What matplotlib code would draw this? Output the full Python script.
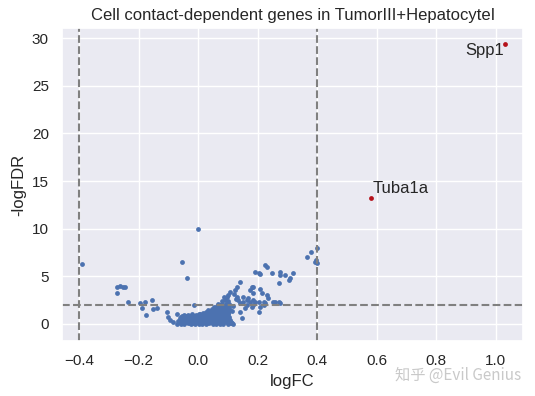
import matplotlib
matplotlib.use("Agg")
import matplotlib.pyplot as plt
import seaborn as sns

# gene-level results: log fold change and -log10(FDR)
# dense bulk of non-significant genes near zero
bulk_fc = [
    -0.070, -0.057, -0.047, -0.033, -0.023, -0.011, 0.003, 0.013, 0.027, 0.037, 0.051, 0.061, 0.075, 0.085, 0.099, 0.111, 0.118,
    -0.064, -0.052, -0.040, -0.028, -0.017, -0.005, 0.008, 0.019, 0.031, 0.043, 0.055, 0.068, 0.079, 0.092, 0.104, 0.114,
    -0.066, -0.053, -0.042, -0.028, -0.018, -0.004, 0.008, 0.018, 0.032, 0.042, 0.056, 0.066, 0.080, 0.090, 0.104, 0.112,
    -0.060, -0.047, -0.035, -0.022, -0.010, 0.004, 0.016, 0.030, 0.041, 0.054, 0.065, 0.077, 0.089, 0.101, 0.108,
    -0.062, -0.048, -0.038, -0.023, -0.013, 0.002, 0.012, 0.026, 0.036, 0.050, 0.060, 0.074, 0.084, 0.098,
    -0.058, -0.044, -0.031, -0.019, -0.006, 0.007, 0.020, 0.033, 0.045, 0.057, 0.069, 0.081, 0.093, 0.103,
    -0.055, -0.041, -0.026, -0.015, -0.001, 0.010, 0.024, 0.034, 0.048, 0.058, 0.072, 0.082, 0.096,
    -0.048, -0.034, -0.020, -0.008, 0.006, 0.020, 0.031, 0.044, 0.055, 0.066, 0.078, 0.090, 0.102,
    0.004, 0.017, 0.027, 0.041, 0.051, 0.065, 0.075, 0.089, 0.101,
    0.026, 0.038, 0.050, 0.062, 0.074, 0.086, 0.098,
    0.033, 0.046, 0.056, 0.070, 0.080, 0.094, 0.106,
    0.048, 0.060, 0.072, 0.084, 0.097,
    0.054, 0.067, 0.077, 0.091, 0.103,
    0.063, 0.075, 0.087, 0.099,
    0.068, 0.081, 0.092, 0.105,
    0.079, 0.090, 0.100,
    0.088, 0.097,
]
bulk_fdr = [
    0.02, 0.05, 0.03, 0.06, 0.02, 0.04, 0.05, 0.03, 0.02, 0.06, 0.04, 0.03, 0.05, 0.02, 0.04, 0.06, 0.03,
    0.16, 0.14, 0.18, 0.15, 0.13, 0.17, 0.15, 0.16, 0.14, 0.18, 0.15, 0.17, 0.13, 0.16, 0.15, 0.14,
    0.30, 0.28, 0.34, 0.31, 0.27, 0.33, 0.29, 0.32, 0.30, 0.35, 0.28, 0.31, 0.33, 0.29, 0.30, 0.26,
    0.45, 0.47, 0.44, 0.48, 0.46, 0.43, 0.47, 0.45, 0.49, 0.44, 0.46, 0.48, 0.45, 0.47, 0.44,
    0.58, 0.62, 0.57, 0.60, 0.63, 0.59, 0.61, 0.64, 0.58, 0.62, 0.60, 0.63, 0.59, 0.61,
    0.72, 0.70, 0.74, 0.71, 0.75, 0.73, 0.76, 0.72, 0.74, 0.77, 0.73, 0.75, 0.76, 0.74,
    0.80, 0.86, 0.83, 0.88, 0.85, 0.90, 0.87, 0.84, 0.89, 0.86, 0.88, 0.85, 0.87,
    0.95, 0.98, 1.00, 0.97, 1.01, 0.99, 1.02, 1.00, 1.04, 1.01, 1.03, 1.02, 1.05,
    1.10, 1.15, 1.12, 1.18, 1.14, 1.16, 1.13, 1.17, 1.15,
    1.28, 1.31, 1.29, 1.32, 1.30, 1.33, 1.31,
    1.42, 1.46, 1.44, 1.48, 1.45, 1.47, 1.43,
    1.60, 1.62, 1.59, 1.63, 1.61,
    1.74, 1.78, 1.75, 1.79, 1.76,
    1.92, 1.95, 1.93, 1.96,
    2.08, 2.12, 2.10, 2.14,
    2.44, 2.48, 2.46,
    2.80, 2.84,
]

# scattered genes outside the bulk
other_fc = [
    -0.391, -0.273, -0.273, -0.262, -0.251, -0.245, -0.234, -0.195, -0.189, -0.178,
    -0.175, -0.156, -0.152, -0.139, -0.105, -0.100, -0.094, -0.083, -0.072, -0.053,
    -0.038, 0.001, -0.013,
    0.139, 0.130, 0.124, 0.119, 0.108, 0.102, 0.180, 0.186, 0.175, 0.208, 0.214,
    0.186, 0.231, 0.236, 0.253, 0.270, 0.276, 0.220, 0.203, 0.186, 0.175, 0.164,
    0.152, 0.152, 0.141, 0.135, 0.130, 0.220, 0.186, 0.180, 0.158, 0.141, 0.147,
    0.208, 0.169, 0.192, 0.225, 0.259, 0.203, 0.164, 0.118, 0.126, 0.113,
    0.192, 0.203, 0.208, 0.225, 0.231, 0.248, 0.276, 0.276, 0.273, 0.292,
    0.309, 0.306, 0.320, 0.365, 0.379, 0.399, 0.397, 0.399, 0.393,
]
other_fdr = [
    6.30, 3.90, 3.28, 3.98, 3.90, 3.85, 2.30, 2.17, 1.65, 2.34,
    0.94, 2.50, 1.54, 1.65, 1.30, 0.77, 0.42, 0.24, 1.05, 6.50,
    4.80, 9.95, 2.00,
    4.44, 3.90, 3.57, 3.20, 3.39, 3.04, 3.90, 3.90, 3.57, 3.64, 3.22,
    3.22, 3.04, 2.69, 2.34, 2.34, 2.20, 2.34, 2.34, 2.50, 2.34, 2.52,
    2.87, 2.34, 2.17, 2.52, 2.87, 2.00, 2.00, 1.82, 1.65, 1.29, 0.60,
    1.75, 2.70, 2.30, 2.20, 2.30, 1.30, 1.95, 1.90, 2.60, 1.40,
    5.49, 5.32, 5.25, 6.19, 6.01, 5.32, 5.49, 5.14, 4.27, 5.14,
    4.79, 4.60, 5.39, 7.00, 7.59, 7.94, 6.70, 6.37, 6.54,
]

# highlighted genes
top_genes = ["Spp1", "Tuba1a"]
top_fc = [1.032, 0.582]
top_fdr = [29.35, 13.25]

sns.set_theme()
plt.rcParams['font.family'] = ['Liberation Sans', 'DejaVu Sans']

fig = plt.figure(figsize=(5.35, 3.96), dpi=100)
ax = fig.add_axes([0.116, 0.139, 0.862, 0.790])

blue = '#4c72b0'
ax.scatter(bulk_fc, bulk_fdr, s=12, color=blue, linewidths=0)
ax.scatter(other_fc, other_fdr, s=12, color=blue, linewidths=0)
ax.scatter(top_fc, top_fdr, s=12, color='#b5121b', linewidths=0)

# cut-offs
ax.axvline(-0.4, color='gray', linestyle='--', linewidth=1.5)
ax.axvline(0.4, color='gray', linestyle='--', linewidth=1.5)
ax.axhline(2, color='gray', linestyle='--', linewidth=1.5)

ax.text(top_fc[0] - 0.005, top_fdr[0] + 0.15, top_genes[0], ha='right', va='top', fontsize=12)
ax.text(top_fc[1] + 0.004, top_fdr[1] + 0.45, top_genes[1], ha='left', va='baseline', fontsize=12)

ax.set_xlim(-0.457, 1.092)
ax.set_ylim(-1.78, 31.06)
ax.set_xticks([-0.4, -0.2, 0.0, 0.2, 0.4, 0.6, 0.8, 1.0])
ax.set_yticks([0, 5, 10, 15, 20, 25, 30])
ax.set_xlabel('logFC')
ax.set_ylabel('-logFDR')
ax.set_title('Cell contact-dependent genes in TumorIII+HepatocyteI', fontsize=12)

fig.text(0.856, 0.053, '知乎 @Evil Genius', color='#c9c9c9', fontsize=11,
         ha='center', va='center', family=['Noto Sans CJK SC', 'DejaVu Sans'])

fig.savefig('out.png', dpi=100)
